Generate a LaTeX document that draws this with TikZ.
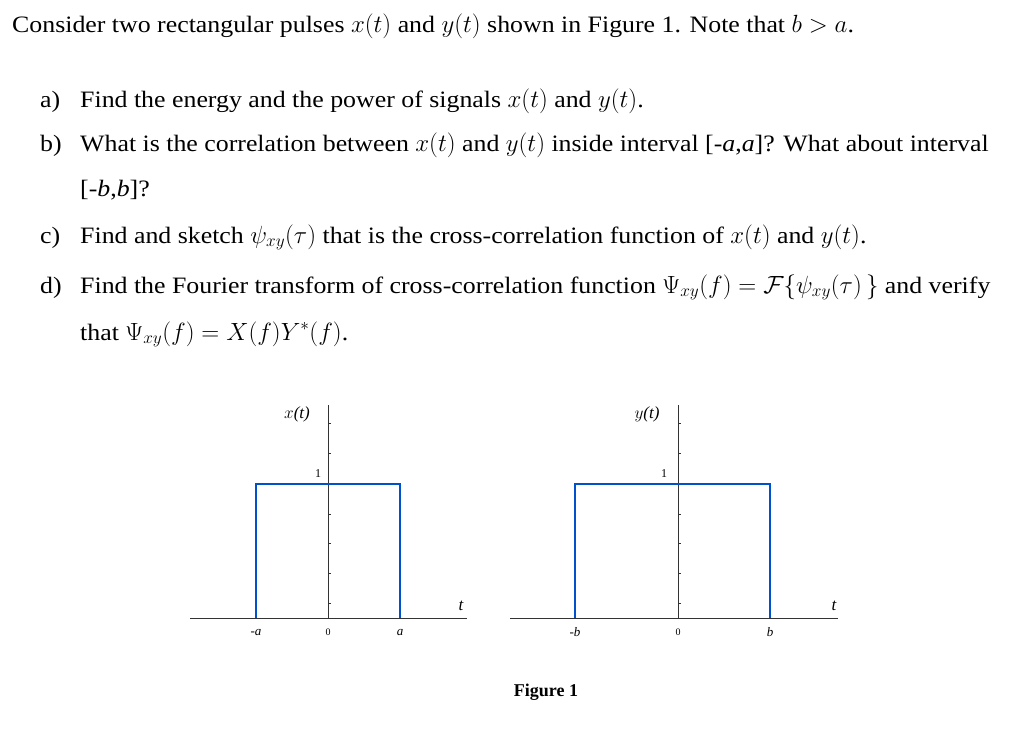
\documentclass[tikz,border=0pt]{standalone}
\usepackage{fontspec}
\setmainfont{Liberation Serif}
\newfontfamily\widefont[FakeStretch=1.1]{Liberation Serif}
\begin{document}
\begin{tikzpicture}[x=1pt,y=-1pt,
 txt/.style={anchor=base west,inner sep=0,font=\widefont\fontsize{23.5}{28}\selectfont},
 lab/.style={inner sep=0,font=\fontsize{17}{19}\selectfont\itshape},
 sml/.style={inner sep=0,font=\fontsize{13}{15}\selectfont\itshape},
 num/.style={inner sep=0,font=\fontsize{12}{14}\selectfont},
 pulse/.style={draw=blue!60!cyan!80!black,line width=1.3pt},
 ax/.style={draw=black!80,line width=0.6pt}]
\useasboundingbox (0,0) rectangle (1024,738);
\node[txt] (l0) at (12,33) {Consider two rectangular pulses $x(t)$ and $y(t)$ shown in Figure 1. Note that $b>a$.};
\node[txt] (ma) at (40,108) {a)};
\node[txt] (la) at (80,108) {Find the energy and the power of signals $x(t)$ and $y(t)$.};
\node[txt] (mb) at (40,152) {b)};
\node[txt] (lb) at (80,152) {What is the correlation between $x(t)$ and $y(t)$ inside interval [-\textit{a},\textit{a}]? What about interval};
\node[txt] (lb2) at (80,196) {[-\textit{b},\textit{b}]?};
\node[txt] (mc) at (40,243) {c)};
\node[txt] (lc) at (80,243) {Find and sketch $\psi_{xy}(\tau)$ that is the cross-correlation function of $x(t)$ and $y(t)$.};
\node[txt] (md) at (40,293) {d)};
\node[txt] (ld) at (80,293) {Find the Fourier transform of cross-correlation function $\Psi_{xy}(f)=\mathcal{F}\{\psi_{xy}(\tau)\,\}$ and verify};
\node[txt] (ld2) at (80,340) {that $\Psi_{xy}(f)=X(f)Y^{*}(f)$.};
% left plot
\coordinate (xa0) at (190,618); \coordinate (xa1) at (467,618);
\coordinate (xv0) at (328,618); \coordinate (xv1) at (328,405);
\draw[ax] (xa0) -- (xa1); \draw[ax] (xv0) -- (xv1);
\foreach \y in {423,453,514,543,573,603} \draw[ax,line width=0.4pt] (328,\y) -- (331,\y);
\coordinate (p1) at (256,618); \coordinate (p2) at (256,484); \coordinate (p3) at (400,484); \coordinate (p4) at (400,618);
\draw[pulse] (p1) -- (p2) -- (p3) -- (p4);
\node[lab] (xl) at (297,414) {$x$(\textit{t})};
\node[num] (x1) at (318,474) {1};
\node[lab] (xt) at (461,606) {t};
\node[sml] (xma) at (256,632) {-a};
\node[num,font=\fontsize{10}{12}\selectfont] (x0) at (328,632) {0};
\node[sml] (xpa) at (400,632) {a};
% right plot
\coordinate (ya0) at (510,618); \coordinate (ya1) at (838,618);
\coordinate (yv0) at (678,618); \coordinate (yv1) at (678,405);
\draw[ax] (ya0) -- (ya1); \draw[ax] (yv0) -- (yv1);
\foreach \y in {423,453,514,543,573,603} \draw[ax,line width=0.4pt] (678,\y) -- (681,\y);
\coordinate (q1) at (575,618); \coordinate (q2) at (575,484); \coordinate (q3) at (770,484); \coordinate (q4) at (770,618);
\draw[pulse] (q1) -- (q2) -- (q3) -- (q4);
\node[lab] (yl) at (647,414) {$y$(\textit{t})};
\node[num] (y1) at (664,474) {1};
\node[lab] (yt) at (834,606) {t};
\node[sml] (ymb) at (575,632) {-b};
\node[num,font=\fontsize{10}{12}\selectfont] (y0) at (678,632) {0};
\node[sml] (ypb) at (770,632) {b};
\node[inner sep=0,font=\fontsize{18}{21}\selectfont\bfseries] (fig) at (546,692) {Figure 1};
\end{tikzpicture}
\end{document}
